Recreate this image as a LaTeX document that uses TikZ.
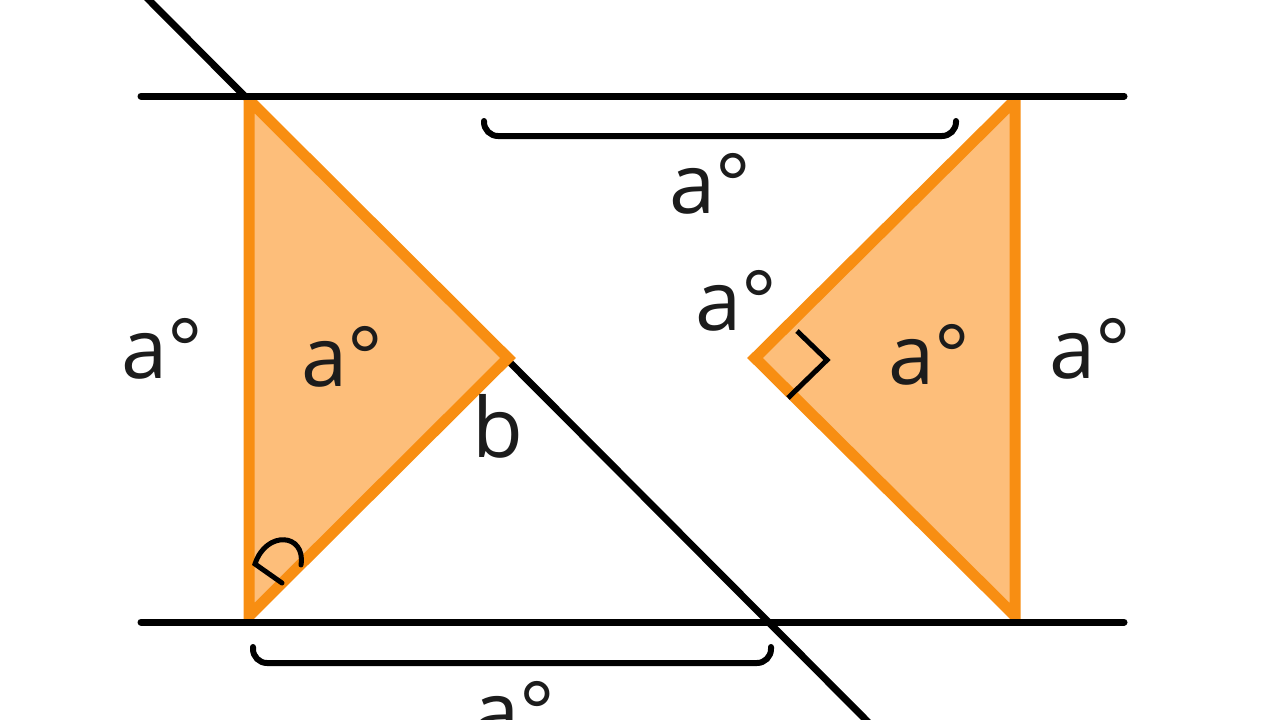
\documentclass[tikz,border=0pt]{standalone}
\usepackage{fontspec}
\setmainfont{Open Sans}
\definecolor{trifill}{RGB}{253,190,122}
\definecolor{triedge}{RGB}{248,142,18}
\definecolor{ink}{RGB}{28,28,28}
\begin{document}
\begin{tikzpicture}[x=1pt,y=-1pt,
  blackline/.style={line width=7pt,line cap=round},
  tri/.style={fill=trifill,draw=triedge,line width=11pt,line join=miter},
  ramark/.style={line width=5pt,line cap=butt,line join=miter},
  brace/.style={line width=6pt,line cap=round,rounded corners=14pt},
  lbl/.style={font=\fontsize{83}{83}\selectfont,text=ink,anchor=base,inner sep=0pt}]
\useasboundingbox (0,0) rectangle (1280,720);
\begin{scope}
\clip (0,0) rectangle (1280,720);
% diagonal transversal
\coordinate (d1) at (139,-10);
\coordinate (d2) at (876,730);
\draw[blackline] (d1) -- (d2);
% triangles, kept between the two parallel lines
\begin{scope}
\clip (0,96) rectangle (1280,622);
\draw[tri] (249,100) -- (508,358) -- (249,616) -- cycle;
\draw[tri] (1015,100) -- (755,358) -- (1015,616) -- cycle;
\end{scope}
% parallel lines
\coordinate (t1) at (141,96);
\coordinate (t2) at (1124,96);
\coordinate (b1) at (141,622);
\coordinate (b2) at (1124,622);
\draw[blackline] (t1) -- (t2);
\draw[blackline] (b1) -- (b2);
% right-angle marks
\draw[ramark] (797,331) -- (827,360) -- (788,398);
\draw[ramark,line cap=round] (282,583) -- (255,564) .. controls (266,530) and (306,533) .. (301,565);
% braces
\draw[brace] (484,121) -- (484,136) -- (956,136) -- (956,121);
\draw[brace] (253,647) -- (253,663) -- (771,663) -- (771,647);
\end{scope}
% labels
\node[lbl] (l1) at (162,378) {a°};
\node[lbl] (l2) at (342,386) {a°};
\node[lbl] (l3) at (498,457) {b};
\node[lbl] (l4) at (710,213) {a°};
\node[lbl] (l5) at (736,330) {a°};
\node[lbl] (l6) at (929,384) {a°};
\node[lbl] (l7) at (1090,378) {a°};
\node[lbl] (l8) at (514,741) {a°};
\end{tikzpicture}
\end{document}
